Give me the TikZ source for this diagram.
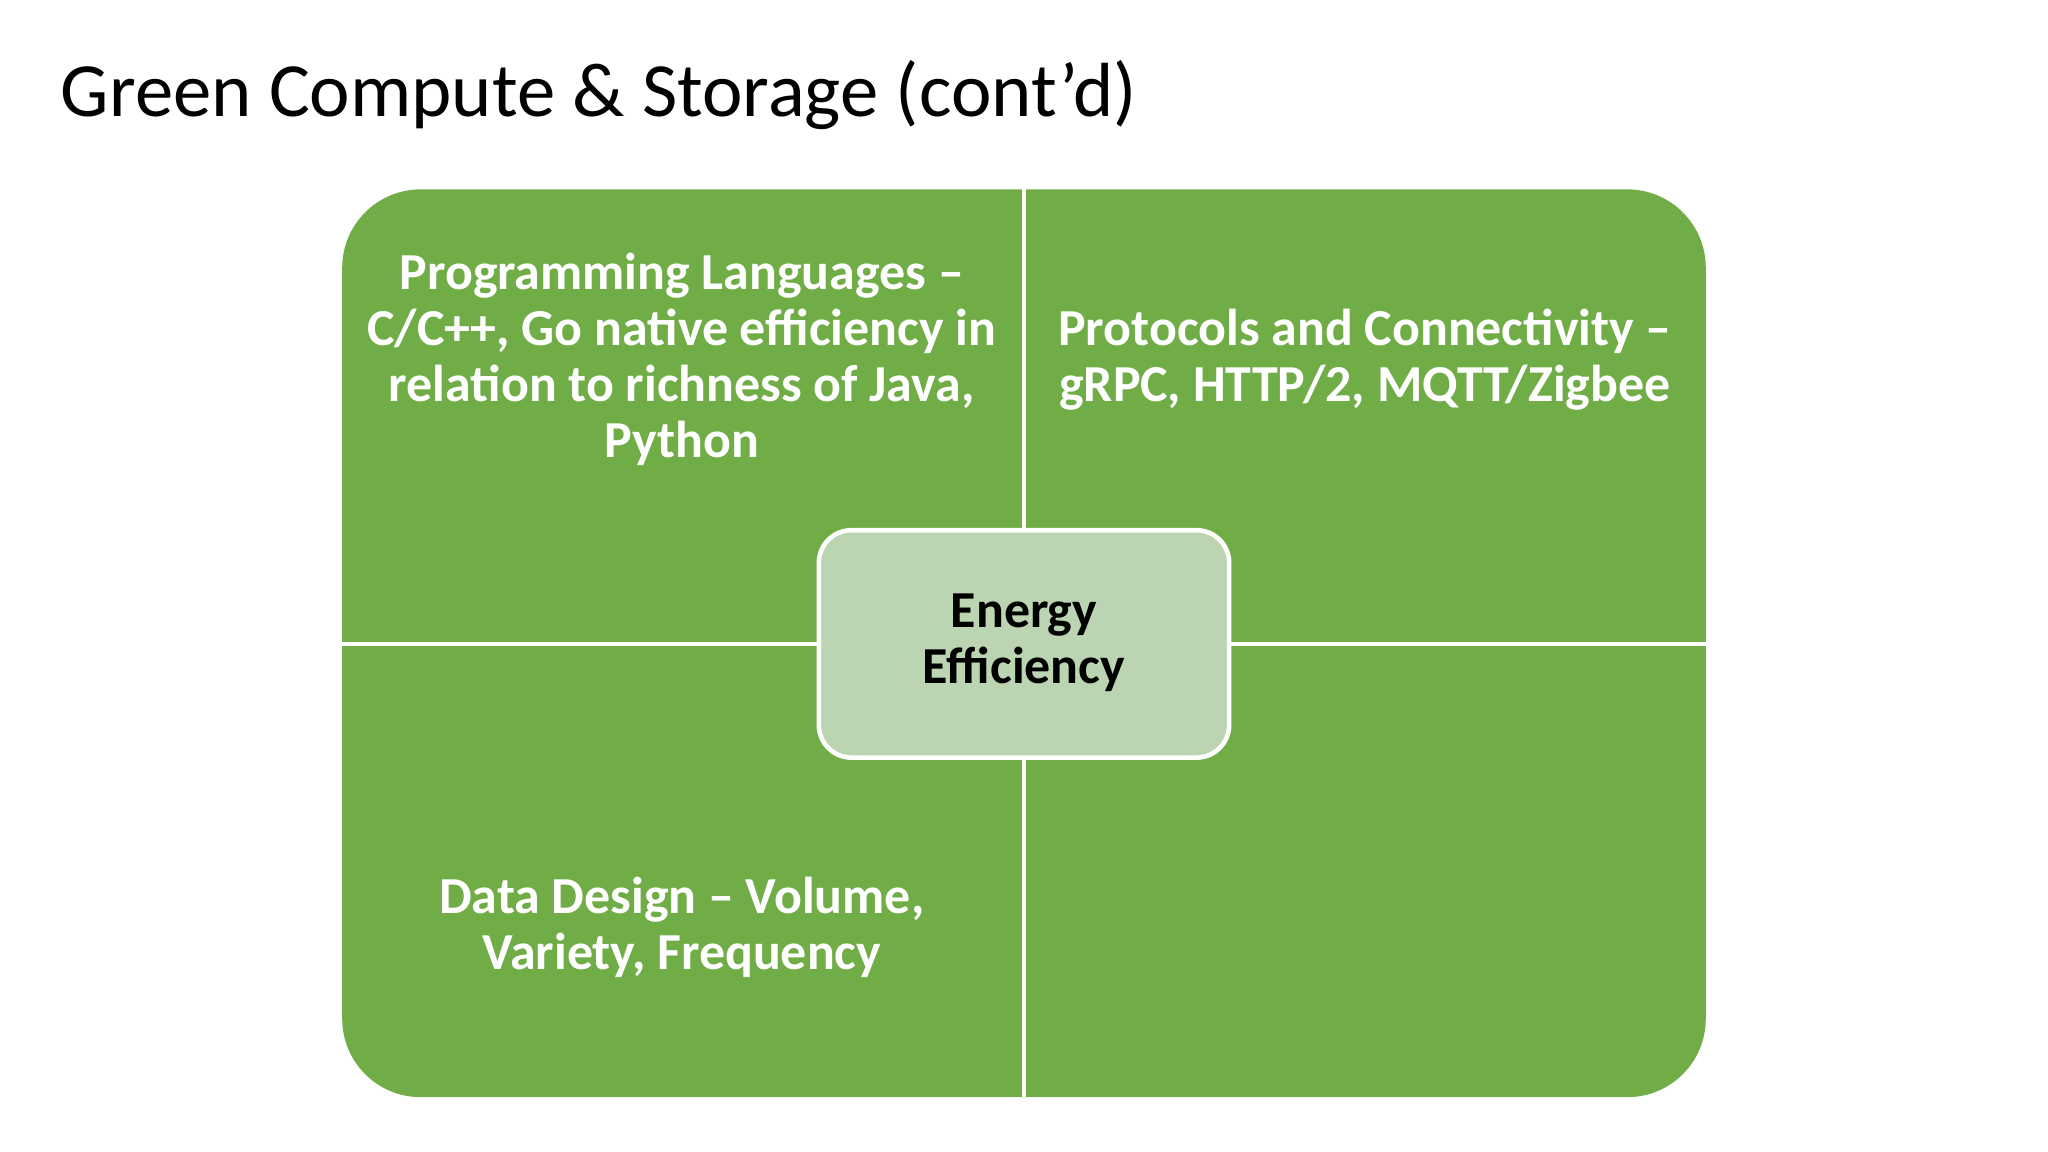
\documentclass[tikz,border=0pt]{standalone}
\usepackage{fontspec}
\setmainfont{Carlito}
\definecolor{grn}{HTML}{70AD47}
\definecolor{lgrn}{HTML}{BBD5B3}
\begin{document}
\begin{tikzpicture}[x=0.01cm,y=-0.01cm,
  qtext/.style={text=white,font=\fontsize{11.3pt}{12.2pt}\bfseries\selectfont,align=center}]
\useasboundingbox (0,0) rectangle (1568,882);
\node[anchor=west,inner sep=0pt,font=\fontsize{16.7pt}{20pt}\selectfont] (title) at (46,73) {Green Compute \& Storage (cont’d)};
\fill[grn,rounded corners=0.6cm] (262,145) rectangle (1306,840);
\draw[white,line width=1pt] (784,145) -- (784,840);
\draw[white,line width=1pt] (262,493) -- (1306,493);
\node[rounded corners=0.25cm,fill=lgrn,draw=white,line width=1pt,minimum width=3.14cm,minimum height=1.74cm,inner sep=0pt] (c) at (784,493) {};
\node[font=\fontsize{11.3pt}{12.2pt}\bfseries\selectfont,align=center] (ct) at (784,492) {Energy\\Efficiency};
\node[qtext] (tl) at (522,275) {Programming Languages –\\C/C++, Go native efficiency in\\relation to richness of Java,\\Python};
\node[qtext] (tr) at (1045,275) {Protocols and Connectivity –\\gRPC, HTTP/2, MQTT/Zigbee};
\node[qtext] (bl) at (522,710) {Data Design – Volume,\\Variety, Frequency};
\end{tikzpicture}
\end{document}
